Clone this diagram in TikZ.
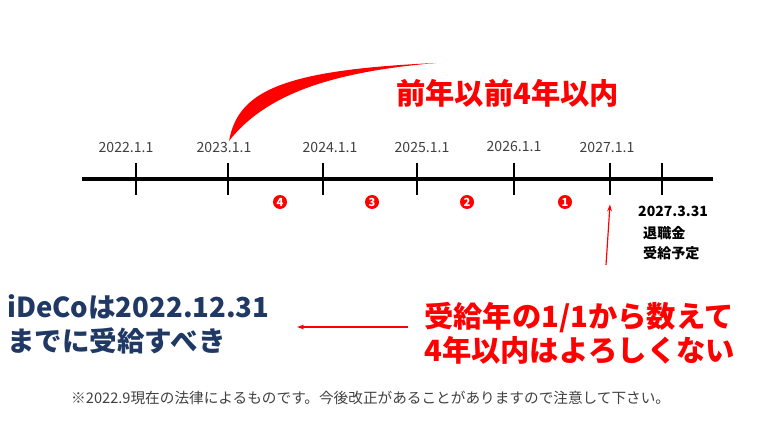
\documentclass[tikz,border=0pt]{standalone}
\usepackage{fontspec}
\setmainfont{Noto Sans CJK JP}
\usetikzlibrary{arrows.meta}
\definecolor{dategray}{HTML}{404040}
\definecolor{ideconavy}{HTML}{1F3864}

\begin{document}
\begin{tikzpicture}[x=0.03cm,y=-0.03cm,inner sep=0pt,
        datelabel/.style={text=dategray,font=\fontsize{12}{14}\selectfont},
        yearno/.style={circle,fill=red,text=white,minimum size=0.42cm,font=\bfseries\fontsize{9.5}{9.5}\selectfont},
        bigtext/.style={anchor=west,align=left,font=\bfseries\fontsize{25}{29}\selectfont},
        tick/.style={line width=1.8pt}]
        \useasboundingbox (0,0) rectangle (768,430);

        % Axis
        \draw[line width=2.8pt] (82,179) -- (713,179);

        % Ticks
        \draw[tick] (136,163) -- (136,195);
        \draw[tick] (228,163) -- (228,195);
        \draw[tick] (323,163) -- (323,195);
        \draw[tick] (417,163) -- (417,195);
        \draw[tick] (514,163) -- (514,195);
        \draw[tick] (610,163) -- (610,195) coordinate (t2027);
        \draw[tick] (662,163) -- (662,195);

        % Dates
        \node[datelabel] (d2022) at (126,147) {2022.1.1};
        \node[datelabel] (d2023) at (224,147) {2023.1.1};
        \node[datelabel] (d2024) at (330,147) {2024.1.1};
        \node[datelabel] (d2025) at (422,147) {2025.1.1};
        \node[datelabel] (d2026) at (514,146) {2026.1.1};
        \node[datelabel] (d2027) at (607,147) {2027.1.1};

        % Years counted back
        \node[yearno] (n4) at (280,202) {4};
        \node[yearno] (n3) at (372,202) {3};
        \node[yearno] (n2) at (467,202) {2};
        \node[yearno] (n1) at (565,202) {1};

        % Four years before
        \fill[red] (229,141) .. controls (238,92) and (280,70) .. (436,63)
            .. controls (330,72) and (265,95) .. (229,141) -- cycle;
        \node[text=red,anchor=west,font=\bfseries\fontsize{25}{30}\selectfont] (span) at (396,93) {前年以前4年以内};

        % Retirement allowance
        \node[anchor=west,font=\bfseries\fontsize{12}{15}\selectfont] (retire) at (638,211) {2027.3.31};
        \node[anchor=north west,align=left,font=\bfseries\fontsize{12}{17}\selectfont] (lump) at (643,226) {退職金\\受給予定};
        \coordinate (lumparrow) at (606,265);
        \draw[red,line width=1pt,-{Stealth[length=6pt,width=4pt]}] (lumparrow) -- ([yshift=-8]t2027);

        % iDeCo
        \node[bigtext,text=ideconavy,font=\bfseries\fontsize{23.5}{29}\selectfont] (ideco) at (7,324) {iDeCoは2022.12.31\\までに受給すべき};
        \node[bigtext,text=red] (warn) at (424,333) {受給年の1/1から数えて\\4年以内はよろしくない};
        \coordinate (warnend) at (408,327);
        \coordinate (idecoend) at (297,327);
        \draw[red,line width=1pt,-{Stealth[length=6pt,width=4pt]}] (warnend) -- (idecoend);

        % Note
        \node[text=dategray,anchor=west,font=\fontsize{12.5}{14}\selectfont] (note) at (71,398) {※2022.9現在の法律によるものです。今後改正があることがありますので注意して下さい。};
    \end{tikzpicture}
\end{document}
